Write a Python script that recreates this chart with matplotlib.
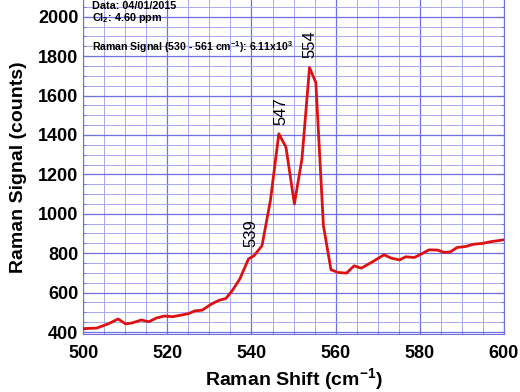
import matplotlib.pyplot as plt
from matplotlib.ticker import MultipleLocator

plt.rcParams['font.family'] = ['Liberation Sans', 'DejaVu Sans']
plt.rcParams['mathtext.fontset'] = 'custom'
plt.rcParams['mathtext.rm'] = 'Liberation Sans:bold'
plt.rcParams['mathtext.bf'] = 'Liberation Sans:bold'
plt.rcParams['mathtext.default'] = 'bf'

shift = [500.0, 503.2, 505.9, 508.3, 510.1, 511.6, 513.8, 515.6, 517.4, 519.3,
         521.3, 523.3, 525.0, 526.5, 528.3, 530.4, 532.3, 533.9, 535.4, 537.2,
         539.3, 540.6, 542.5, 544.5, 546.5, 548.2, 550.2, 552.0, 553.8, 555.3,
         557.1, 558.9, 560.6, 562.6, 564.4, 566.1, 568.9, 571.5, 573.2, 575.2,
         576.7, 578.7, 580.3, 582.2, 584.2, 585.8, 587.3, 588.9, 590.9, 592.9,
         594.8, 596.8, 600.0]
signal = [417, 420, 441, 466, 441, 446, 461, 452, 471, 481,
          478, 486, 493, 507, 511, 541, 561, 570, 609, 668,
          771, 787, 838, 1067, 1406, 1338, 1050, 1279, 1742, 1666,
          940, 716, 702, 699, 736, 724, 758, 792, 775, 766,
          782, 778, 795, 817, 816, 804, 807, 829, 834, 846,
          849, 858, 868]

peak_labels = ['539', '547', '554']
peak_pos = [(539.9, 830), (547.0, 1450), (554.0, 1790)]

grid_major = '#6f6fe0'
grid_minor = '#a8a8f0'

fig = plt.figure(figsize=(5.2, 3.92), dpi=100)
ax = fig.add_axes([0.16, 0.148, 0.809, 0.852])
ax.plot(shift, signal, color='#dd1111', lw=2, zorder=3)

ax.set_xlim(500, 600)
ax.set_ylim(390, 2085)
ax.xaxis.set_major_locator(MultipleLocator(20))
ax.xaxis.set_minor_locator(MultipleLocator(5))
ax.yaxis.set_major_locator(MultipleLocator(200))
ax.yaxis.set_minor_locator(MultipleLocator(50))
ax.grid(which='major', color=grid_major, lw=0.9)
ax.grid(which='minor', color=grid_minor, lw=0.7)
ax.tick_params(which='both', direction='in', colors=grid_major, right=True,
               labelcolor='black', labelsize=13)
ax.tick_params(which='major', length=4)
ax.tick_params(which='minor', length=2)
ax.tick_params(axis='x', pad=8)
for lab in ax.get_xticklabels() + ax.get_yticklabels():
    lab.set_fontweight('bold')
for sp in ax.spines.values():
    sp.set_color(grid_major)
ax.spines['top'].set_visible(False)

ax.set_xlabel('Raman Shift (cm$^{-1}$)', fontsize=14, fontweight='bold', labelpad=3)
ax.set_ylabel('Raman Signal (counts)', fontsize=14, fontweight='bold', labelpad=8)

for lab, (px, py) in zip(peak_labels, peak_pos):
    ax.text(px, py, lab, rotation=90, ha='center', va='bottom', fontsize=12)

ax.text(0.02, 0.982, 'Data: 04/01/2015', transform=ax.transAxes, fontsize=7.8,
        fontweight='bold', va='center')
ax.text(0.02, 0.945, 'Cl$_2$: 4.60 ppm', transform=ax.transAxes, fontsize=7.8,
        fontweight='bold', va='center')
ax.text(0.02, 0.86, 'Raman Signal (530 - 561 cm$^{-1}$): 6.11x10$^3$',
        transform=ax.transAxes, fontsize=7.6, fontweight='bold', va='center')

fig.savefig('out.png', dpi=100)
